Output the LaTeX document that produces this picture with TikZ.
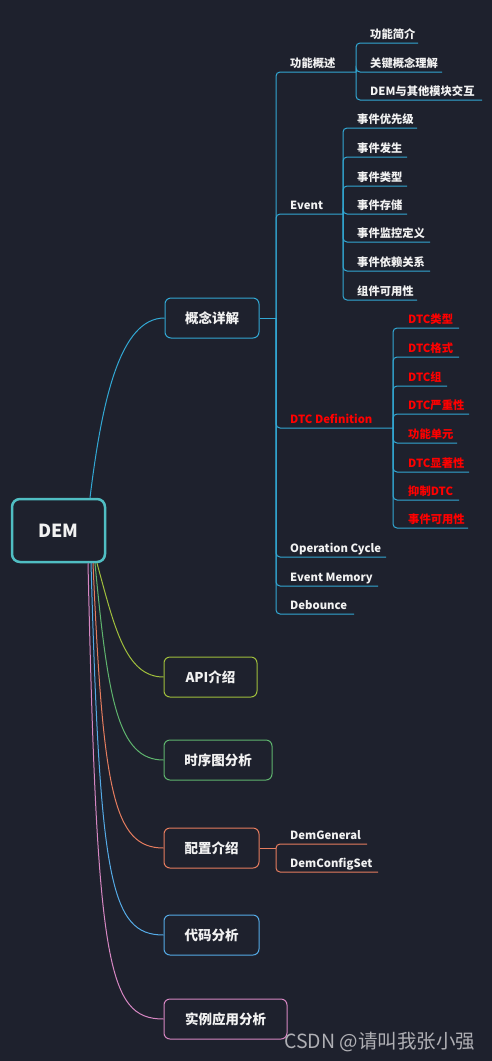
\documentclass[tikz,border=0pt]{standalone}
\usepackage{fontspec}
\setmainfont{Noto Sans CJK SC}
\definecolor{bg}{RGB}{30,33,45}
\definecolor{txt}{RGB}{242,242,242}
\definecolor{demc}{RGB}{80,190,195}
\definecolor{cA}{RGB}{50,168,212}
\definecolor{cB}{RGB}{160,190,60}
\definecolor{cC}{RGB}{95,180,110}
\definecolor{cD}{RGB}{230,125,95}
\definecolor{cE}{RGB}{85,170,230}
\definecolor{cF}{RGB}{215,135,195}
\definecolor{dtcred}{RGB}{255,0,0}
\definecolor{wm}{RGB}{175,175,180}
\begin{document}
\begin{tikzpicture}[x=1pt,y=-1pt,
  mainbox/.style={draw, rounded corners=6pt, line width=1pt, minimum height=40pt,
    inner sep=0pt, text=txt, fill=bg, font=\bfseries\fontsize{13.5}{14}\selectfont},
  leaf/.style={anchor=base west, inner sep=0pt, text=txt, font=\bfseries\fontsize{11.3}{12}\selectfont},
  redleaf/.style={leaf, text=dtcred},
  conn/.style={line width=1pt, rounded corners=4pt},
  curve/.style={line width=1pt},
]
\fill[bg] (0,0) rectangle (492,1061);
\useasboundingbox (0,0) rectangle (492,1061);

% ---- main nodes
\node[draw=demc, line width=2.5pt, rounded corners=8pt, minimum width=93pt, minimum height=63pt,
  inner sep=0pt, text=txt, font=\bfseries\fontsize{18}{20}\selectfont] (dem) at (58.5,530.5) {DEM};
\node[mainbox, draw=cA, minimum width=94pt] (gn) at (212,318) {概念详解};
\node[mainbox, draw=cB, minimum width=93pt] (api) at (210.5,677) {API介绍};
\node[mainbox, draw=cC, minimum width=108pt] (sx) at (218,760) {时序图分析};
\node[mainbox, draw=cD, minimum width=95pt] (pz) at (211.5,848) {配置介绍};
\node[mainbox, draw=cE, minimum width=95pt] (dm) at (211.5,935) {代码分析};
\node[mainbox, draw=cF, minimum width=123pt] (sl) at (225.5,1019) {实例应用分析};

% ---- curves from DEM
\draw[curve, cA] ([xshift=31.5pt]dem.north) .. controls (102,400) and (120,318) .. (gn.west);
\draw[curve, cB] ([xshift=38.5pt]dem.south) .. controls (114,625) and (125,677) .. (api.west);
\draw[curve, cC] ([xshift=36.5pt]dem.south) .. controls (108,700) and (118,760) .. (sx.west);
\draw[curve, cD] ([xshift=34.5pt]dem.south) .. controls (103,790) and (113,848) .. (pz.west);
\draw[curve, cE] ([xshift=32.5pt]dem.south) .. controls (100,880) and (110,935) .. (dm.west);
\draw[curve, cF] ([xshift=29.5pt]dem.south) .. controls (97,965) and (107,1019) .. (sl.west);

% ---- 概念详解 branch
\coordinate (j1) at (276,318);
\node[leaf] (gs) at (290,67) {功能概述};
\coordinate (gs-u) at (356,72);
\node[leaf] (ev) at (290,209) {Event};
\coordinate (ev-u) at (343,214);
\node[leaf, text=dtcred] (dtc) at (290,423) {DTC Definition};
\coordinate (dtc-u) at (393,428);
\node[leaf] (oc) at (290,552) {Operation Cycle};
\coordinate (oc-u) at (386,557);
\node[leaf] (em) at (290,581) {Event Memory};
\coordinate (em-u) at (378,586);
\node[leaf] (db) at (290,609) {Debounce};
\coordinate (db-u) at (354,614);

\draw[conn, cA] (gn.east) -- (j1);
\foreach \c in {gs-u, ev-u, dtc-u, oc-u, em-u, db-u}
  \draw[conn, cA] (j1) |- (\c);

% 功能概述 children
\node[leaf] (g1) at (370,38) {功能简介};
\coordinate (g1-u) at (418,43);
\node[leaf] (g2) at (370,67) {关键概念理解};
\coordinate (g2-u) at (442,72);
\node[leaf] (g3) at (370,95) {DEM与其他模块交互};
\coordinate (g3-u) at (482,100);
\foreach \c in {g1-u, g2-u, g3-u}
  \draw[conn, cA] (gs-u) |- (\c);

% Event children
\foreach \n/\y/\e/\t in {e1/128/417/事件优先级, e2/157/407/事件发生, e3/186/407/事件类型,
    e4/214/407/事件存储, e5/242/430/事件监控定义, e6/271/430/事件依赖关系, e7/300/417/组件可用性}{
  \node[leaf] (\n) at (357,\y-5) {\t};
  \coordinate (\n-u) at (\e,\y);
  \draw[conn, cA] (ev-u) |- (\n-u);
}

% DTC Definition children
\foreach \n/\y/\e/\t in {d1/328/459/DTC类型, d2/357/459/DTC格式, d3/386/447/DTC组,
    d4/414/469/DTC严重性, d5/443/457/功能单元, d6/472/469/DTC显著性, d7/500/459/抑制DTC, d8/528/468/事件可用性}{
  \node[redleaf] (\n) at (408,\y-5) {\t};
  \coordinate (\n-u) at (\e,\y);
  \draw[conn, cA] (dtc-u) |- (\n-u);
}

% ---- 配置介绍 branch
\coordinate (j2) at (276,848);
\node[leaf] (pg) at (290,839) {DemGeneral};
\coordinate (pg-u) at (367,844);
\node[leaf] (pc) at (290,867) {DemConfigSet};
\coordinate (pc-u) at (378,872);
\draw[conn, cD] (pz.east) -- (j2);
\draw[conn, cD] (j2) |- (pg-u);
\draw[conn, cD] (j2) |- (pc-u);

% ---- watermark
\node[anchor=base west, inner sep=0pt, text=wm, font=\fontsize{19.5}{21}\selectfont] (wmk) at (284,1048) {CSDN @请叫我张小强};
\end{tikzpicture}
\end{document}
